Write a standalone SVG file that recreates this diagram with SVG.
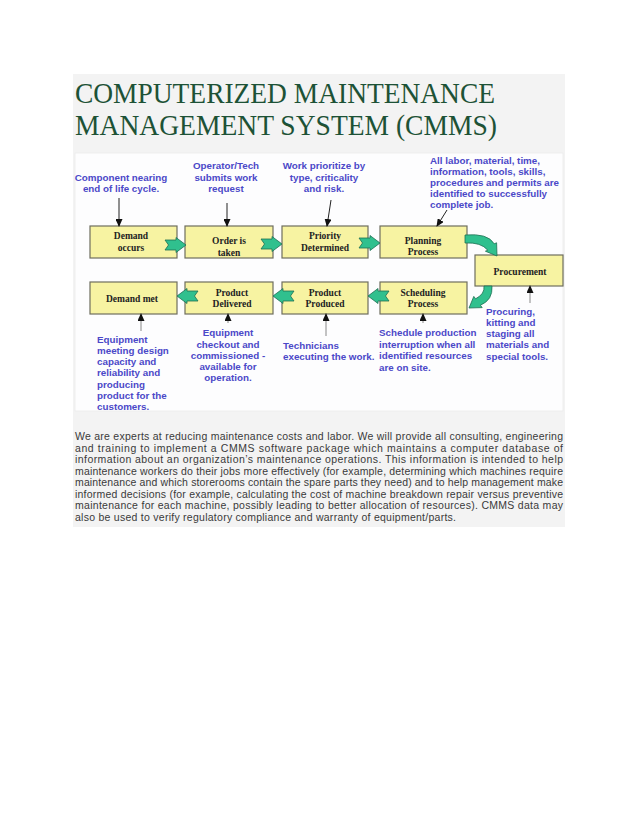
<svg xmlns="http://www.w3.org/2000/svg" width="638" height="826" viewBox="0 0 638 826">
<style>
.title{font-family:"Liberation Serif","Times New Roman",serif;font-size:29px;fill:#1d5236}
.box{fill:#f7f3a2;stroke:#6e6e5e;stroke-width:1.2}
.bl{font-family:"Liberation Serif","Times New Roman",serif;font-size:9.5px;font-weight:bold;fill:#222;text-anchor:middle}
.co{font-family:"Liberation Sans",Arial,sans-serif;font-size:9.8px;font-weight:bold;fill:#4b48c8}
.cm{text-anchor:middle}
.para{font-family:"Liberation Sans",Arial,sans-serif;font-size:10.5px;fill:#3a3a3a}
.ptr{stroke:#222;stroke-width:1;fill:none;marker-end:url(#ah)}
.ptrg{stroke:#888;stroke-width:1;fill:none;marker-end:url(#ah)}
.chev{fill:#30c08e;stroke:#1e6e52;stroke-width:0.8}
</style>
<defs>
<marker id="ah" markerWidth="8" markerHeight="7" refX="7" refY="3.5" orient="auto" markerUnits="userSpaceOnUse">
<path d="M0,0 L8,3.5 L0,7 Z" fill="#111"/>
</marker>
<path id="chevR" d="M0,-5 H11 V-7.5 L21,0 L11,7.5 V5 H0 L3.5,0 Z"/>
</defs>
<rect x="73" y="74" width="492" height="453" fill="#f3f3f3"/>
<rect x="75" y="153" width="488" height="258" fill="#fdfdfe" stroke="#ebebeb" stroke-width="0.8"/>
<g id="title">
<text class="title" x="75" y="103" textLength="420" lengthAdjust="spacingAndGlyphs">COMPUTERIZED MAINTENANCE</text>
<text class="title" x="75" y="135" textLength="422" lengthAdjust="spacingAndGlyphs">MANAGEMENT SYSTEM (CMMS)</text>
</g>
<g id="n-demand-occurs"><rect class="box" x="90" y="226" width="87" height="32"/><text class="bl" x="131" y="238.5">Demand</text><text class="bl" x="131" y="250.5">occurs</text></g>
<g id="n-order"><rect class="box" x="185" y="226" width="88" height="32"/><text class="bl" x="229" y="244">Order is</text><text class="bl" x="229" y="255.5">taken</text></g>
<g id="n-priority"><rect class="box" x="282" y="226" width="86" height="32"/><text class="bl" x="325" y="238.5">Priority</text><text class="bl" x="325" y="250.5">Determined</text></g>
<g id="n-planning"><rect class="box" x="380" y="226" width="87" height="32"/><text class="bl" x="423" y="243.5">Planning</text><text class="bl" x="423" y="255">Process</text></g>
<g id="n-procurement"><rect class="box" x="475" y="255" width="88" height="31"/><text class="bl" x="520" y="274.5">Procurement</text></g>
<g id="n-scheduling"><rect class="box" x="380" y="282" width="87" height="32"/><text class="bl" x="423" y="296">Scheduling</text><text class="bl" x="423" y="307">Process</text></g>
<g id="n-produced"><rect class="box" x="282" y="282" width="86" height="32"/><text class="bl" x="325" y="296">Product</text><text class="bl" x="325" y="307">Produced</text></g>
<g id="n-delivered"><rect class="box" x="185" y="282" width="88" height="32"/><text class="bl" x="232" y="296">Product</text><text class="bl" x="232" y="307">Delivered</text></g>
<g id="n-demand-met"><rect class="box" x="90" y="282" width="87" height="32"/><text class="bl" x="132" y="301.5">Demand met</text></g>
<g id="connectors">
<use href="#chevR" class="chev" transform="translate(165,245)"/>
<use href="#chevR" class="chev" transform="translate(261,244)"/>
<use href="#chevR" class="chev" transform="translate(359,243)"/>
<use href="#chevR" class="chev" transform="translate(198,296) scale(-1,1)"/>
<use href="#chevR" class="chev" transform="translate(294,296) scale(-1,1)"/>
<use href="#chevR" class="chev" transform="translate(389,296) scale(-1,1)"/>
<path class="chev" d="M465,235 Q488,233 494.2,243.8 L496.6,242.8 L497,256 L485.4,251.2 L487.8,250.2 Q481,242 465,243 Z"/>
<path class="chev" d="M492,286 Q493,300 480.4,305.2 L482.2,307.6 L469,308 L473.8,296.4 L475.6,298.8 Q485,294 484,286 Z"/>
<line class="ptr" x1="119" y1="198" x2="119" y2="226"/>
<line class="ptr" x1="227" y1="203" x2="227" y2="226"/>
<line class="ptr" x1="331" y1="200" x2="327" y2="226"/>
<line class="ptr" x1="447" y1="210" x2="437" y2="226"/>
<line class="ptrg" x1="141" y1="331" x2="141" y2="314"/>
<line class="ptrg" x1="228" y1="323" x2="228" y2="314"/>
<line class="ptrg" x1="326" y1="336" x2="326" y2="314"/>
<line class="ptrg" x1="423" y1="323" x2="423" y2="314"/>
<line class="ptrg" x1="530" y1="303" x2="530" y2="286"/>
</g>
<g id="callouts">
<text class="co cm" x="121" y="181">Component nearing</text>
<text class="co cm" x="121" y="192">end of life cycle.</text>
<text class="co cm" x="226" y="169">Operator/Tech</text>
<text class="co cm" x="226" y="181">submits work</text>
<text class="co cm" x="226" y="192">request</text>
<text class="co cm" x="324" y="169">Work prioritize by</text>
<text class="co cm" x="324" y="181">type, criticality</text>
<text class="co cm" x="324" y="192">and risk.</text>
<text class="co" x="430" y="163.5">All labor, material, time,</text>
<text class="co" x="430" y="174.5">information, tools, skills,</text>
<text class="co" x="430" y="185.5">procedures and permits are</text>
<text class="co" x="430" y="196.5">identified to successfully</text>
<text class="co" x="430" y="207.5">complete job.</text>
<text class="co" x="97" y="343">Equipment</text>
<text class="co" x="97" y="354">meeting design</text>
<text class="co" x="97" y="365">capacity and</text>
<text class="co" x="97" y="376">reliability and</text>
<text class="co" x="97" y="387.5">producing</text>
<text class="co" x="97" y="398.5">product for the</text>
<text class="co" x="97" y="409.5">customers.</text>
<text class="co cm" x="228" y="336">Equipment</text>
<text class="co cm" x="228" y="347.5">checkout and</text>
<text class="co cm" x="228" y="359">commissioned -</text>
<text class="co cm" x="228" y="370">available for</text>
<text class="co cm" x="228" y="381">operation.</text>
<text class="co" x="283" y="348.5">Technicians</text>
<text class="co" x="283" y="359.5">executing the work.</text>
<text class="co" x="379" y="336">Schedule production</text>
<text class="co" x="379" y="347.5">interruption when all</text>
<text class="co" x="379" y="359">identified resources</text>
<text class="co" x="379" y="370.5">are on site.</text>
<text class="co" x="486" y="315">Procuring,</text>
<text class="co" x="486" y="326">kitting and</text>
<text class="co" x="486" y="337">staging all</text>
<text class="co" x="486" y="348">materials and</text>
<text class="co" x="486" y="359.5">special tools.</text>
</g>
<g id="paragraph">
<text class="para" x="75" y="440" textLength="488" lengthAdjust="spacing">We are experts at reducing maintenance costs and labor.  We will provide all consulting, engineering</text>
<text class="para" x="75" y="451.5" textLength="488" lengthAdjust="spacing">and training to implement a CMMS software package which maintains a computer database of</text>
<text class="para" x="75" y="463" textLength="488" lengthAdjust="spacing">information about an organization’s maintenance operations. This information is intended to help</text>
<text class="para" x="75" y="474.5" textLength="488" lengthAdjust="spacing">maintenance workers do their jobs more effectively (for example, determining which machines require</text>
<text class="para" x="75" y="486" textLength="488" lengthAdjust="spacing">maintenance and which storerooms contain the spare parts they need) and to help management make</text>
<text class="para" x="75" y="497.5" textLength="488" lengthAdjust="spacing">informed decisions (for example, calculating the cost of machine breakdown repair versus preventive</text>
<text class="para" x="75" y="509" textLength="488" lengthAdjust="spacing">maintenance for each machine, possibly leading to better allocation of resources). CMMS data may</text>
<text class="para" x="75" y="520.5" textLength="381" lengthAdjust="spacing">also be used to verify regulatory compliance and warranty of equipment/parts.</text>
</g>
</svg>
